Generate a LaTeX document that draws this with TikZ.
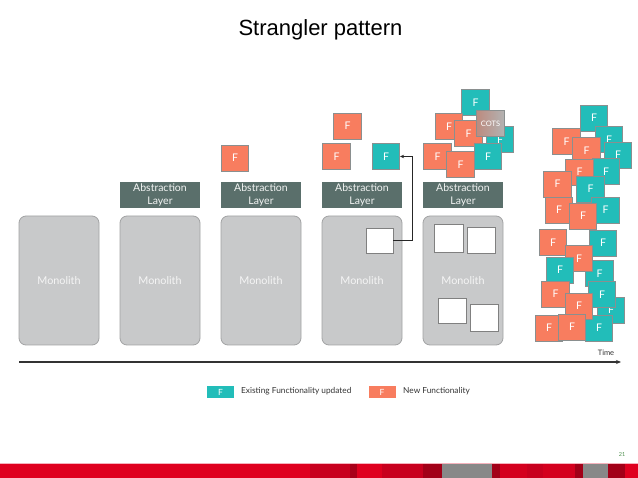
\documentclass[tikz,border=0pt]{standalone}
\usepackage{fontspec}
\setmainfont{Liberation Sans}
\newfontfamily\lato{Lato}
\usetikzlibrary{arrows.meta}
\definecolor{tealF}{HTML}{22BDB9}
\definecolor{orngF}{HTML}{F87D5F}
\definecolor{monof}{HTML}{C8C9CA}
\definecolor{monod}{HTML}{A2A3A4}
\definecolor{absf}{HTML}{5A6F6B}
\definecolor{boxd}{HTML}{8A8F8F}
\definecolor{redA}{HTML}{DF001F}
\definecolor{redB}{HTML}{C8001E}
\definecolor{redC}{HTML}{A20018}
\definecolor{redD}{HTML}{D4001E}
\definecolor{barg}{HTML}{888888}
\begin{document}
\begin{tikzpicture}[x=1pt,y=-1pt,
  fbox/.style={draw=boxd, line width=0.6pt, minimum width=27.5pt, minimum height=26pt, inner sep=0pt, text=white, font=\lato\fontsize{10.5}{12}\selectfont},
  ft/.style={fbox, fill=tealF},
  fo/.style={fbox, fill=orngF},
  mono/.style={draw=monod, fill=monof, line width=0.8pt, rounded corners=7pt, minimum width=80pt, minimum height=129pt, inner sep=0pt, text=white!96!black, font=\lato\fontsize{10.8}{12}\selectfont},
  abst/.style={fill=absf, minimum width=80pt, minimum height=26pt, inner sep=0pt, align=center, text=white!92!absf, font=\lato\fontsize{10.5}{13}\selectfont},
  wbox/.style={draw=black!50, fill=white, line width=0.8pt, inner sep=0pt},
  conn/.style={draw=black!85, line width=1pt, -{Stealth[length=4pt,width=3.5pt]}},
  axis/.style={draw=black!80, line width=1.5pt, -{Stealth[length=5pt,width=4pt]}},
  legtxt/.style={anchor=west, text=black!80, font=\lato\fontsize{8.3}{10}\selectfont, inner sep=0pt},
  legbox/.style={minimum width=27pt, minimum height=12pt, inner sep=0pt, text=white, font=\lato\fontsize{8.5}{9}\selectfont}
]
\useasboundingbox (0,0) rectangle (638,478);
\fill[white] (0,0) rectangle (638,478);

% title
\node[font=\fontsize{22}{26}\selectfont, text=black] (title) at (320.5,29.5) {Strangler pattern};

% monoliths
\node[mono] (m1) at (59,280.5) {Monolith};
\node[mono] (m2) at (160,280.5) {Monolith};
\node[mono] (m3) at (261,280.5) {Monolith};
\node[mono] (m4) at (362,280.5) {};
\node[mono] (m5) at (463,280.5) {Monolith};
\node[text=white!96!black, font=\lato\fontsize{10.8}{12}\selectfont] (m4t) at (362,280.5) {Monolith};

% abstraction layers
\node[abst] (a2) at (160,195) {Abstraction\\Layer};
\node[abst] (a3) at (261,195) {Abstraction\\Layer};
\node[abst] (a4) at (362,195) {Abstraction\\Layer};
\node[abst] (a5) at (463,195) {Abstraction\\Layer};

% white boxes inside monoliths
\node[wbox, minimum width=27pt, minimum height=25pt] (wb4) at (379.5,240.5) {};
\node[wbox, minimum width=29pt, minimum height=28pt] (w5a) at (448.5,238) {};
\node[wbox, minimum width=28pt, minimum height=26pt] (w5b) at (481,240) {};
\node[wbox, minimum width=28pt, minimum height=25pt] (w5c) at (452,310.5) {};
\node[wbox, minimum width=28pt, minimum height=27pt] (w5d) at (484,317.5) {};

% column 3
\node[fo] (c3a) at (235,158) {F};
% column 4
\node[fo] (c4a) at (347.5,126) {F};
\node[fo] (c4b) at (336.5,156.5) {F};
\node[ft] (t4) at (386,156.5) {F};
\draw[conn] (wb4.east) -- ++(19,0) |- (t4.east);

% column 5
\node[ft] (c5a) at (475.5,102.5) {F};
\node[fo] (c5b) at (449,126.5) {F};
\node[ft] (c5c) at (500,139.5) {F};
\node[fo] (c5d) at (468.5,133.5) {F};
\node[fbox, left color=orngF!45!gray!90, right color=black!30, font=\lato\fontsize{7.5}{8}\selectfont] (cots) at (490.5,123.5) {COTS};
\node[ft] (c5e) at (488,156.5) {F};
\node[fo] (c5f) at (437.5,156.5) {F};
\node[fo] (c5g) at (460.5,164.5) {F};

% column 6
\node[ft] (g1) at (594,118) {F};
\node[fo] (g2) at (566.5,141.5) {F};
\node[ft] (g3) at (609,139.5) {F};
\node[ft] (g4) at (618,155) {F};
\node[fo] (g5) at (586.5,150.5) {F};
\node[ft] (g6) at (606,171.5) {F};
\node[fo] (g7) at (579.5,172) {F};
\node[fo] (g8) at (557.5,184) {F};
\node[ft] (g9) at (590.5,189) {F};
\node[fo] (g10) at (559,210) {F};
\node[ft] (g11) at (605.5,210) {F};
\node[fo] (g12) at (583,216) {F};
\node[fo] (g13) at (553,242.5) {F};
\node[ft] (g14) at (603,243) {F};
\node[ft] (g15) at (599.5,273.5) {F};
\node[fo] (g16) at (579,258.5) {F};
\node[ft] (g17) at (560,270) {F};
\node[fo] (g18) at (555.5,294) {F};
\node[ft] (g19) at (611,310) {F};
\node[ft] (g20) at (602,294.5) {F};
\node[ft] (g21) at (599,328) {F};
\node[fo] (g22) at (579,306) {F};
\node[fo] (g23) at (549,328) {F};
\node[fo] (g24) at (572,327) {F};

% time axis
\coordinate (ax0) at (19,362);
\coordinate (ax1) at (621,362);
\draw[axis] (ax0) -- (ax1);
\node[text=black!80, font=\lato\fontsize{7.5}{8}\selectfont] (time) at (606,352.5) {Time};

% legend
\node[legbox, fill=tealF] (lt) at (220.5,392) {F};
\node[legtxt] (ltt) at (241,391.5) {Existing Functionality updated};
\node[legbox, fill=orngF] (lo) at (382,392) {F};
\node[legtxt] (lot) at (403,391.5) {New Functionality};

% page number
\node[text=black!35!green!40!gray, font=\lato\fontsize{5.5}{6}\selectfont] (pg) at (622,455) {21};

% bottom bar
\fill[redA] (0,464) rectangle (310,478);
\fill[redB] (310,464) rectangle (350,478);
\fill[redC!85!redB] (350,464) rectangle (357,478);
\fill[redA] (357,464) rectangle (382,478);
\fill[redB] (382,464) rectangle (423,478);
\fill[redC] (423,464) rectangle (442,478);
\fill[barg] (442,464) rectangle (492,478);
\fill[redC] (492,464) rectangle (500,478);
\fill[redD] (500,464) rectangle (527,478);
\fill[redB] (527,464) rectangle (543,478);
\fill[redD] (543,464) rectangle (575,478);
\fill[redC] (575,464) rectangle (583,478);
\fill[barg] (583,464) rectangle (608,478);
\fill[redC] (608,464) rectangle (625,478);
\fill[redA] (625,464) rectangle (638,478);
\draw[redA!30, line width=0.6pt] (0,463.6) -- (638,463.6);
\end{tikzpicture}
\end{document}
